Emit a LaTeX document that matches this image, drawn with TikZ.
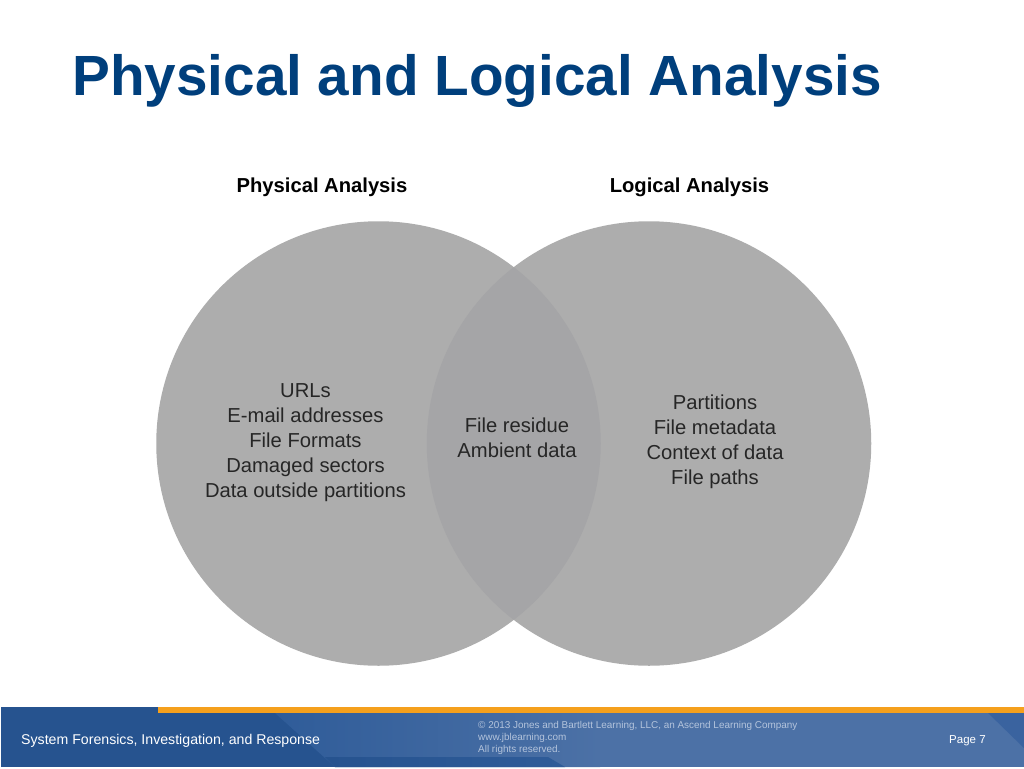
\documentclass[tikz,border=0pt]{standalone}
\usepackage{fontspec}
\setmainfont{Liberation Sans}
\definecolor{titleblue}{HTML}{003F7C}
\definecolor{circlegray}{HTML}{ADADAD}
\definecolor{overlapgray}{HTML}{A5A5A7}
\definecolor{labeltext}{HTML}{262626}
\definecolor{banddark}{HTML}{26538F}
\definecolor{bandmid}{HTML}{2F5C99}
\definecolor{bandlight}{HTML}{4C71A6}
\definecolor{bandcorner}{HTML}{3A639F}
\definecolor{barorange}{HTML}{F5A01C}
\definecolor{copytext}{HTML}{B4C4DC}
\tikzset{
  setcircle/.style={circle,fill=circlegray,inner sep=0pt,minimum size=444.5pt},
  headlabel/.style={font=\fontsize{20.2}{24}\selectfont\bfseries,text=black},
  setlabel/.style={font=\fontsize{20.2}{25}\selectfont,text=labeltext,align=center}
}
\begin{document}
\begin{tikzpicture}[x=1pt,y=-1pt]
\useasboundingbox (0,0) rectangle (1024,768);
\fill[white] (0,0) rectangle (1024,768);
% title
\node[anchor=west,inner sep=0pt,text=titleblue,font=\fontsize{56.7}{60}\selectfont\bfseries] (title) at (72,81) {Physical and Logical Analysis};
% the two sets
\node[setcircle] (physical) at (378.5,443.5) {};
\node[setcircle] (logical) at (649,443.5) {};
\begin{scope}
\clip (378.5,443.5) circle (222.25);
\fill[overlapgray] (649,443.5) circle (222.25);
\end{scope}
\node[headlabel] (physhead) at (322,187) {Physical Analysis};
\node[headlabel] (loghead) at (689.5,187) {Logical Analysis};
\node[setlabel] (physlist) at (305.5,442.5) {URLs\\E-mail addresses\\File Formats\\Damaged sectors\\Data outside partitions};
\node[setlabel] (bothlist) at (517,438) {File residue\\Ambient data};
\node[setlabel] (loglist) at (715,441.5) {Partitions\\File metadata\\Context of data\\File paths};
% footer band
\fill[banddark] (1,707) rectangle (1024,767);
\fill[bandlight] (600,713) rectangle (1024,767);
\shade[left color=bandmid,right color=bandlight] (275,713) -- (600,713) -- (600,767) -- (335,767) -- cycle;
\fill[bandcorner] (988,713) -- (1024,713) -- (1024,748) -- cycle;
\shade[left color=banddark,right color=bandmid] (335,767) -- (325,757) -- (548,757) -- (565,767) -- cycle;
\fill[barorange] (158,707) rectangle (1024,713);
\node[anchor=west,inner sep=0pt,text=white,font=\fontsize{14.15}{16}\selectfont] (course) at (21,741) {System Forensics, Investigation, and Response};
\node[anchor=north west,inner sep=0pt,text=copytext,align=left,font=\fontsize{9.93}{12}\selectfont] (copyright) at (478,721.5) {© 2013 Jones and Bartlett Learning, LLC, an Ascend Learning Company\\www.jblearning.com\\All rights reserved.};
\node[anchor=west,inner sep=0pt,text=white,font=\fontsize{11.5}{13}\selectfont] (pagenum) at (949,741) {Page 7};
\end{tikzpicture}
\end{document}
